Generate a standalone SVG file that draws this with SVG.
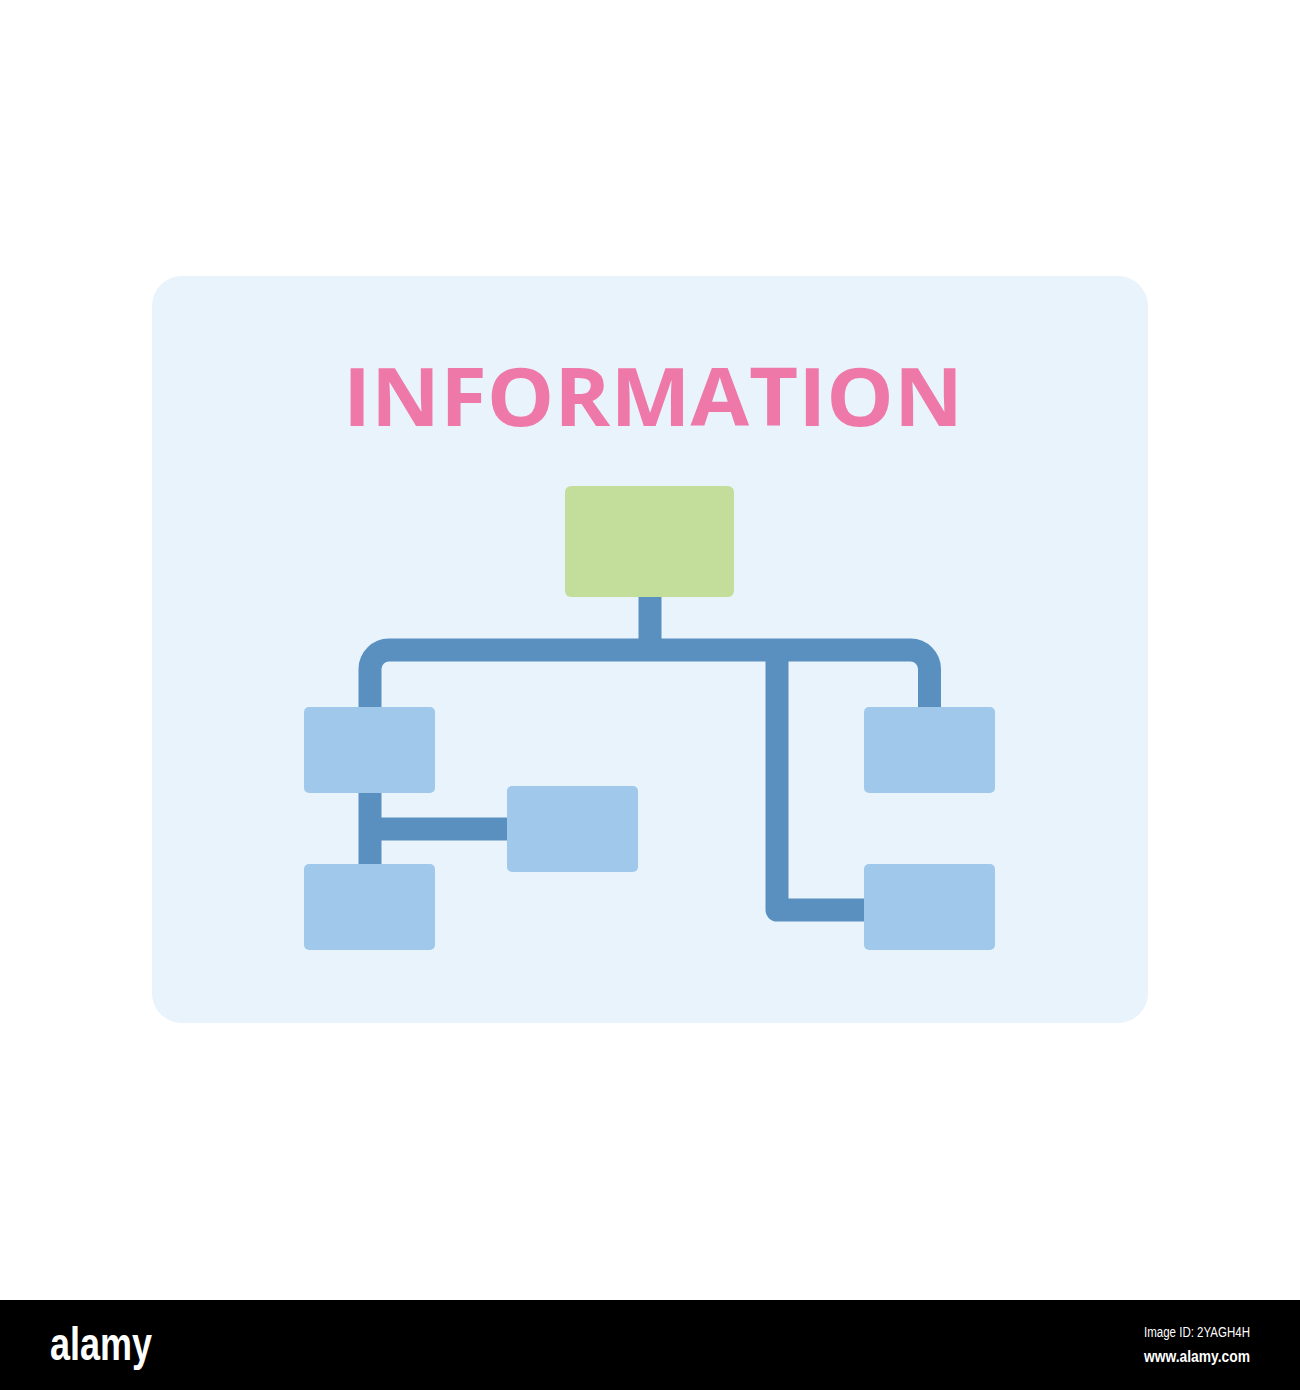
<svg xmlns="http://www.w3.org/2000/svg" width="1300" height="1390" viewBox="0 0 1300 1390">
<style>
.conn{fill:none;stroke:#5A90C0;stroke-width:23}
.box{fill:#A0C8EA}
.root{fill:#C2DE9A}
.title{font-family:"Open Sans","Liberation Sans",sans-serif;font-weight:700;fill:#EE79A9}
.bar{font-family:"Liberation Sans","DejaVu Sans",sans-serif;fill:#fff}
</style>
<rect width="1300" height="1390" fill="#fff"/>
<rect x="152" y="276" width="996" height="747" rx="30" fill="#E9F3FC"/>
<text class="title" x="653" y="426" font-size="80" text-anchor="middle" textLength="620" lengthAdjust="spacingAndGlyphs">INFORMATION</text>
<g id="connectors">
<path class="conn" d="M650,597 V650"/>
<path class="conn" d="M370,708 V669 A19,19 0 0 1 389,650 H910.5 A19,19 0 0 1 929.5,669 V708"/>
<path class="conn" stroke-linejoin="round" d="M777,650 V910 H864"/>
<path class="conn" d="M370,793 V864"/>
<path class="conn" d="M370,829 H508"/>
</g>
<g id="root"><rect class="root" x="565" y="486" width="169" height="111" rx="6"/></g>
<g id="left-top"><rect class="box" x="304" y="707" width="131" height="86" rx="5"/></g>
<g id="right-top"><rect class="box" x="864" y="707" width="131" height="86" rx="5"/></g>
<g id="middle"><rect class="box" x="507" y="786" width="131" height="86" rx="5"/></g>
<g id="left-bottom"><rect class="box" x="304" y="864" width="131" height="86" rx="5"/></g>
<g id="right-bottom"><rect class="box" x="864" y="864" width="131" height="86" rx="5"/></g>
<rect x="0" y="1300" width="1300" height="90" fill="#000"/>
<text class="bar" x="50" y="1360" font-size="46" font-weight="700" textLength="102" lengthAdjust="spacingAndGlyphs">alamy</text>
<text class="bar" x="1144" y="1337" font-size="14" textLength="106" lengthAdjust="spacingAndGlyphs">Image ID: 2YAGH4H</text>
<text class="bar" x="1144" y="1362" font-size="16" font-weight="700" textLength="106" lengthAdjust="spacingAndGlyphs">www.alamy.com</text>
</svg>
